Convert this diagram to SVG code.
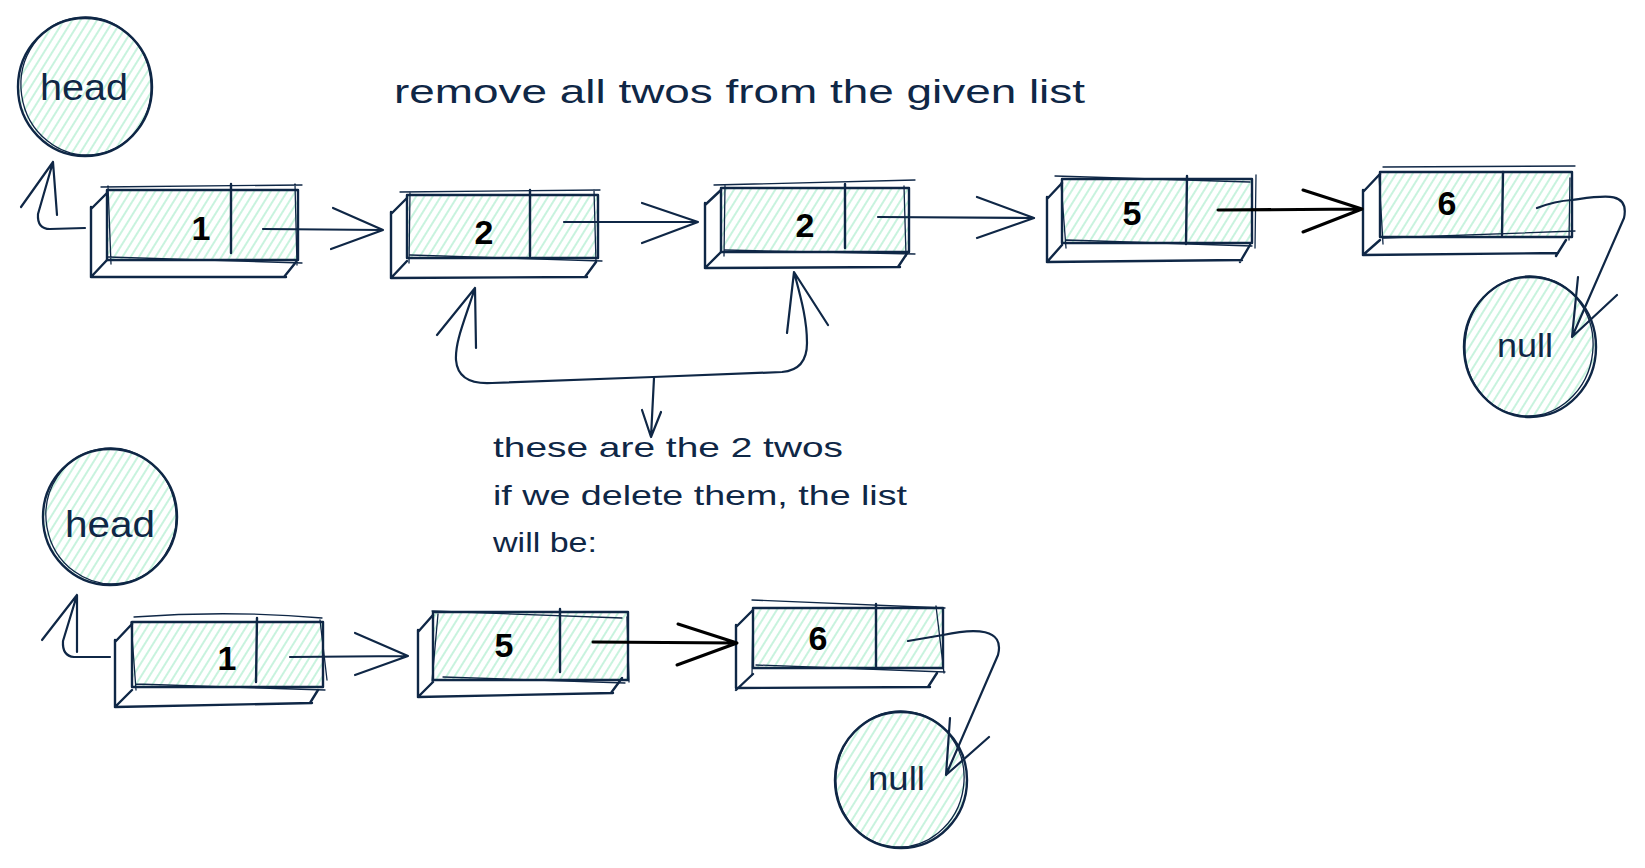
<svg xmlns="http://www.w3.org/2000/svg" width="1645" height="868" viewBox="0 0 1645 868">
<defs>
<pattern id="hach" patternUnits="userSpaceOnUse" width="7" height="7" patternTransform="rotate(32)">
<line x1="2" y1="0" x2="2" y2="7" stroke="#a3ebc8" stroke-width="1.2"/>
</pattern>
<style>
.ol{fill:none;stroke:#0f2746;stroke-width:2.4;stroke-linecap:round;stroke-linejoin:round}
.ol2{fill:none;stroke:#0f2746;stroke-width:1.3;stroke-linecap:round}
.hf{fill:url(#hach);stroke:none}
.lbl{font-family:"Liberation Sans",Arial,sans-serif;fill:#0f2746}
.val{font-family:"Liberation Sans",Arial,sans-serif;fill:#000;font-size:34px;text-anchor:middle;font-weight:bold}
.cn{fill:none;stroke:#0f2746;stroke-width:2.2;stroke-linecap:round;stroke-linejoin:round}
.cb{fill:none;stroke:#000;stroke-width:3;stroke-linecap:round;stroke-linejoin:round}
</style>
</defs>
<rect width="1645" height="868" fill="#fff"/>

<g id="title">
<text class="lbl" x="394" y="103" font-size="34" textLength="691" lengthAdjust="spacingAndGlyphs">remove all twos from the given list</text>
</g>

<g id="head-top">
<ellipse class="hf" cx="85" cy="87" rx="66" ry="68"/>
<ellipse class="ol" cx="85" cy="87" rx="67" ry="69"/>
<ellipse class="ol2" cx="86" cy="86" rx="65" ry="69" transform="rotate(-8 86 86)"/>
<text class="lbl" x="40" y="100" font-size="36" textLength="88" lengthAdjust="spacingAndGlyphs">head</text>
</g>

<g id="node-top-1">
<rect class="hf" x="107" y="190" width="191" height="70"/>
<rect class="ol" x="107" y="190" width="191" height="70"/>
<path class="ol2" d="M101,187 L302,185 M295,184 L297,265 M302,263 L108,257 M111,264 L108,186"/>
<path class="ol" d="M91,207 L91,277 L286,277 M91,209 L107,193 M91,277 L107,260 M284,277 L296,262"/>
<path class="ol" d="M231,184 L231,253"/>
<text class="val" x="201" y="240">1</text>
</g>

<g id="node-top-2a">
<rect class="hf" x="407" y="195" width="191" height="63"/>
<rect class="ol" x="407" y="195" width="191" height="63"/>
<path class="ol2" d="M400,192 L600,190 M594,190 L596,262 M602,261 L410,255 M409,263 L410,192"/>
<path class="ol" d="M391,212 L391,278 L587,277 M391,214 L407,198 M391,278 L407,261 M585,277 L596,262"/>
<path class="ol" d="M530,190 L530,256"/>
<text class="val" x="484" y="244">2</text>
</g>

<g id="node-top-2b">
<rect class="hf" x="721" y="188" width="188" height="64"/>
<rect class="ol" x="721" y="188" width="188" height="64"/>
<path class="ol2" d="M714,185 L915,180 M904,186 L906,256 M915,254 L725,250 M724,256 L725,186"/>
<path class="ol" d="M705,203 L705,268 L900,267 M705,205 L721,190 M705,268 L721,252 M898,267 L908,252"/>
<path class="ol" d="M845,184 L845,248"/>
<text class="val" x="805" y="237">2</text>
</g>

<g id="node-top-5">
<rect class="hf" x="1062" y="179" width="190" height="64"/>
<rect class="ol" x="1062" y="179" width="190" height="64"/>
<path class="ol2" d="M1055,176 L1250,182 M1256,175 L1255,248 M1252,246 L1066,240 M1066,248 L1061,183"/>
<path class="ol" d="M1047,197 L1047,262 L1242,260 M1047,199 L1062,183 M1047,262 L1062,245 M1240,262 L1250,245"/>
<path class="ol" d="M1187,176 L1186,244"/>
<text class="val" x="1132" y="225">5</text>
</g>

<g id="node-top-6">
<rect class="hf" x="1380" y="172" width="192" height="65"/>
<rect class="ol" x="1380" y="172" width="192" height="65"/>
<path class="ol2" d="M1383,167 L1575,166 M1570,178 L1569,240 M1575,231 L1383,238 M1383,244 L1379,175"/>
<path class="ol" d="M1363,190 L1363,255 L1558,253 M1363,192 L1380,174 M1363,255 L1380,240 M1556,256 L1566,240"/>
<path class="ol" d="M1503,172 L1502,235"/>
<text class="val" x="1447" y="215">6</text>
</g>

<g id="null-top">
<ellipse class="hf" cx="1530" cy="347" rx="65" ry="69"/>
<ellipse class="ol" cx="1530" cy="347" rx="66" ry="70"/>
<ellipse class="ol2" cx="1529" cy="346" rx="64" ry="70" transform="rotate(6 1529 346)"/>
<text class="lbl" x="1497" y="357" font-size="34" textLength="56" lengthAdjust="spacingAndGlyphs">null</text>
</g>

<g id="note">
<text class="lbl" x="493" y="457" font-size="28" textLength="350" lengthAdjust="spacingAndGlyphs">these are the 2 twos</text>
<text class="lbl" x="493" y="505" font-size="28" textLength="414" lengthAdjust="spacingAndGlyphs">if we delete them, the list</text>
<text class="lbl" x="493" y="552" font-size="28" textLength="104" lengthAdjust="spacingAndGlyphs">will be:</text>
</g>

<g id="head-bottom">
<ellipse class="hf" cx="110" cy="517" rx="66" ry="67"/>
<ellipse class="ol" cx="110" cy="517" rx="67" ry="68"/>
<ellipse class="ol2" cx="111" cy="516" rx="65" ry="68" transform="rotate(-10 111 516)"/>
<text class="lbl" x="65" y="537" font-size="36" textLength="90" lengthAdjust="spacingAndGlyphs">head</text>
</g>

<g id="node-bottom-1">
<rect class="hf" x="132" y="622" width="191" height="65"/>
<rect class="ol" x="132" y="622" width="191" height="65"/>
<path class="ol2" d="M134,617 Q230,610 322,618 M320,620 L327,680 M325,690 L136,684 M136,690 L131,622"/>
<path class="ol" d="M115,640 L115,707 L312,703 M115,642 L132,624 M115,707 L132,690 M310,703 L318,690"/>
<path class="ol" d="M257,618 L256,682"/>
<text class="val" x="227" y="670">1</text>
</g>

<g id="node-bottom-5">
<rect class="hf" x="433" y="612" width="195" height="68"/>
<rect class="ol" x="433" y="612" width="195" height="68"/>
<path class="ol2" d="M432,611 L622,618 M627,617 L629,682 M625,683 L443,677 M432,681 L438,614"/>
<path class="ol" d="M418,630 L418,697 L613,693 M418,632 L433,615 M418,697 L433,682 M611,693 L622,678"/>
<path class="ol" d="M560,609 L560,672"/>
<text class="val" x="504" y="657">5</text>
</g>

<g id="node-bottom-6">
<rect class="hf" x="753" y="608" width="190" height="60"/>
<rect class="ol" x="753" y="608" width="190" height="60"/>
<path class="ol2" d="M752,600 L945,608 M936,606 L944,673 M945,672 L756,665 M753,610 L752,675"/>
<path class="ol" d="M736,625 L736,688 L930,687 M736,627 L753,610 M736,690 L753,674 M928,687 L937,673"/>
<path class="ol" d="M876,604 L876,668"/>
<text class="val" x="818" y="650">6</text>
</g>

<g id="null-bottom">
<ellipse class="hf" cx="901" cy="780" rx="65" ry="67"/>
<ellipse class="ol" cx="901" cy="780" rx="66" ry="68"/>
<ellipse class="ol2" cx="900" cy="779" rx="64" ry="68" transform="rotate(8 900 779)"/>
<text class="lbl" x="868" y="790" font-size="34" textLength="57" lengthAdjust="spacingAndGlyphs">null</text>
</g>

<g id="connectors">
<path class="cn" d="M85,228 L50,229 Q37,229 38,214 L53,162 M21,207 L53,162 L57,215"/>
<path class="cn" d="M263,229 L383,230 M333,208 L383,230 L331,249"/>
<path class="cn" d="M564,222 L698,222 M642,203 L698,222 L642,243"/>
<path class="cn" d="M878,217 L1034,218 M977,197 L1034,218 L977,238"/>
<path class="cb" d="M1218,210 L1362,209 M1303,190 L1362,209 L1303,232"/>
<path class="cn" d="M1537,208 Q1555,201 1572,200 C1602,196 1630,190 1624,218 L1572,337 M1578,277 L1572,337 L1617,295"/>
<path class="cn" d="M475,288 C464,322 455,342 456,360 Q458,385 492,383 L653,377 L782,372 Q807,370 807,343 C807,318 800,295 794,272 M437,335 L475,288 L476,348 M787,333 L794,272 L828,325"/>
<path class="cn" d="M654,378 L651,437 M642,410 L651,437 L661,412"/>
<path class="cn" d="M110,657 L74,657 Q62,656 63,641 L77,595 M42,640 L77,595 L77,652"/>
<path class="cn" d="M290,657 L408,656 M355,633 L408,656 L355,675"/>
<path class="cb" d="M593,642 L737,643 M678,624 L737,643 L677,665"/>
<path class="cn" d="M908,641 L943,635 C975,628 1005,628 998,655 L946,775 M950,718 L946,775 L989,737"/>
</g>
</svg>
